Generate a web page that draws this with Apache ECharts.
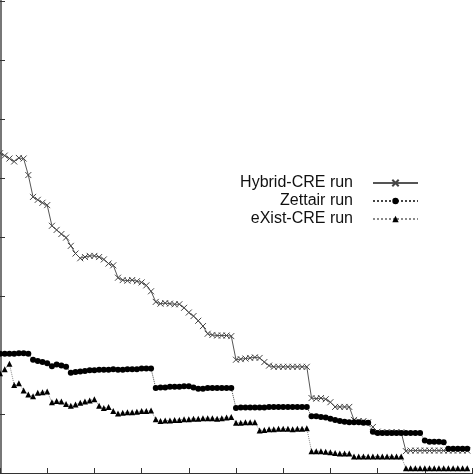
<!DOCTYPE html><html><head><meta charset="utf-8"><script src="https://cdn.jsdelivr.net/npm/echarts@6/dist/echarts.min.js"></script>
<style>html,body{margin:0;padding:0;background:#fff}#c{width:474px;height:474px}</style></head><body><div id="c"></div><script>
const seriesNames=['Hybrid-CRE run','Zettair run','eXist-CRE run'];
const hybrid=[5.42,5.38,5.33,5.28,5.34,5.33,5.05,4.68,4.63,4.58,4.54,4.19,4.12,4.05,3.99,3.85,3.72,3.64,3.66,3.68,3.68,3.66,3.62,3.55,3.52,3.31,3.27,3.26,3.27,3.25,3.23,3.18,3.08,2.90,2.87,2.88,2.87,2.86,2.86,2.80,2.72,2.66,2.58,2.49,2.36,2.34,2.33,2.33,2.33,2.32,1.92,1.93,1.94,1.95,1.96,1.95,1.88,1.82,1.80,1.80,1.80,1.80,1.80,1.80,1.80,1.80,1.27,1.26,1.27,1.25,1.20,1.12,1.12,1.12,1.12,0.90,0.88,0.88,0.86,0.78,0.70,0.69,0.69,0.69,0.69,0.69,0.37,0.38,0.38,0.38,0.38,0.38,0.38,0.38,0.38,0.38,0.38,0.38,0.38,0.38];
const zettair=[2.02,2.02,2.02,2.02,2.03,2.03,2.02,1.92,1.90,1.88,1.86,1.81,1.84,1.82,1.80,1.70,1.71,1.72,1.73,1.74,1.74,1.75,1.75,1.75,1.76,1.75,1.75,1.76,1.76,1.76,1.77,1.77,1.77,1.44,1.45,1.45,1.46,1.46,1.46,1.47,1.47,1.45,1.43,1.43,1.44,1.44,1.44,1.44,1.44,1.44,1.10,1.11,1.11,1.11,1.11,1.11,1.11,1.12,1.12,1.12,1.12,1.12,1.12,1.12,1.12,1.12,0.96,0.96,0.95,0.94,0.92,0.90,0.88,0.87,0.86,0.86,0.86,0.85,0.85,0.70,0.68,0.68,0.68,0.68,0.68,0.68,0.68,0.68,0.68,0.68,0.55,0.53,0.53,0.53,0.52,0.41,0.41,0.41,0.41,0.41];
const exist=[1.69,1.76,1.85,1.49,1.52,1.40,1.33,1.30,1.36,1.37,1.38,1.20,1.22,1.21,1.17,1.14,1.16,1.19,1.21,1.23,1.25,1.14,1.10,1.12,1.05,1.01,1.02,1.03,1.03,1.04,1.05,1.05,1.06,0.91,0.88,0.89,0.89,0.90,0.90,0.91,0.91,0.92,0.92,0.93,0.93,0.93,0.92,0.93,0.94,0.95,0.85,0.85,0.86,0.86,0.86,0.72,0.73,0.74,0.74,0.75,0.75,0.75,0.74,0.75,0.75,0.76,0.37,0.37,0.37,0.36,0.35,0.34,0.33,0.33,0.33,0.28,0.28,0.28,0.28,0.28,0.28,0.28,0.28,0.28,0.28,0.28,0.08,0.08,0.08,0.08,0.08,0.08,0.08,0.08,0.08,0.08,0.08,0.08,0.08,0.08];
const toPts=a=>a.map((v,i)=>[i,v]);
const ch=echarts.init(document.getElementById('c'));
const tick={show:true,inside:true,length:5,lineStyle:{color:'#333'}};
const ax={splitLine:{show:false},axisLabel:{show:false},axisTick:tick,axisLine:{show:true,lineStyle:{color:'#333',width:1}}};
ch.setOption({animation:false,
grid:{left:0,right:2,top:1,bottom:1},
legend:{orient:'vertical',right:50,top:170,align:'right',itemWidth:45,itemHeight:8,itemGap:2,
 textStyle:{fontFamily:'Liberation Sans',fontSize:16,color:'#111',padding:[0,15,0,0]},data:seriesNames},
xAxis:[{type:'value',min:0,max:100,interval:10,...ax},{type:'value',min:0,max:100,interval:10,position:'top',...ax}],
yAxis:[{type:'value',min:0,max:8,interval:1,...ax},{type:'value',min:0,max:8,interval:1,position:'right',...ax,axisLine:{show:true,lineStyle:{color:'#777',width:3}}}],
series:[
{name:seriesNames[0],type:'line',data:toPts(hybrid),symbol:'path://M0,0L10,10M10,0L0,10',symbolSize:6,
 lineStyle:{color:'#555',width:1},itemStyle:{color:'transparent',borderColor:'#444',borderWidth:1}},
{name:seriesNames[1],type:'line',data:toPts(zettair),symbol:'circle',symbolSize:6,
 lineStyle:{color:'#444',width:1,type:'dotted'},itemStyle:{color:'#000'}},
{name:seriesNames[2],type:'line',data:toPts(exist),symbol:'triangle',symbolSize:6,
 lineStyle:{color:'#888',width:1,type:'dotted'},itemStyle:{color:'#000'}}
]});
</script></body></html>
